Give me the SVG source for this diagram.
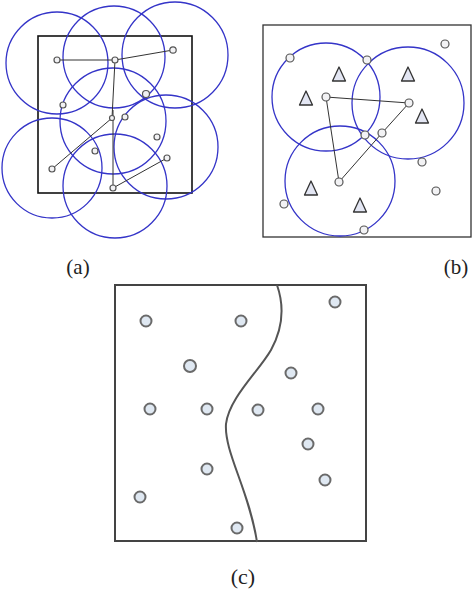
<svg xmlns="http://www.w3.org/2000/svg" width="474" height="593" viewBox="0 0 474 593">
<style>
.rng{fill:none;stroke:#3434c8;stroke-width:1.3}
.frame{fill:none;stroke:#111;stroke-width:1.6}
.e{stroke:#333;stroke-width:1;fill:none}
.n{fill:#f2f2f4;stroke:#555;stroke-width:1.2}
.t{fill:#e3e6f3;stroke:#333;stroke-width:1.3;stroke-linejoin:round}
.c{fill:#dfe8f2;stroke:#6a6a6a;stroke-width:2}
.lbl{font-family:"Liberation Serif","Times New Roman",serif;font-size:21px;fill:#222;text-anchor:middle}
</style>
<defs>
<path id="tri" d="M0,-7 L6.5,7 L-6.5,7 Z"/>
</defs>
<rect width="474" height="593" fill="#fff"/>

<!-- Panel (a) -->
<g id="panel-a">
<rect class="frame" x="38" y="36" width="154" height="157"/>
<g id="a-ranges">
<circle class="rng" cx="57" cy="63" r="51"/>
<circle class="rng" cx="114" cy="57" r="51"/>
<circle class="rng" cx="175" cy="55" r="53"/>
<circle class="rng" cx="113" cy="121" r="53"/>
<circle class="rng" cx="166" cy="147" r="52"/>
<circle class="rng" cx="52" cy="168" r="50"/>
<circle class="rng" cx="115" cy="186" r="52"/>
</g>
<g id="a-connectors">
<line class="e" x1="57" y1="60" x2="115" y2="60"/>
<line class="e" x1="115" y1="60" x2="173" y2="50"/>
<line class="e" x1="115" y1="60" x2="112" y2="118"/>
<line class="e" x1="113" y1="110" x2="113" y2="188"/>
<line class="e" x1="112" y1="118" x2="52" y2="169"/>
<line class="e" x1="113" y1="188" x2="167" y2="158"/>
</g>
<g id="a-nodes">
<circle class="n" cx="57" cy="60" r="3"/>
<circle class="n" cx="115" cy="60" r="3"/>
<circle class="n" cx="173" cy="50" r="3.2"/>
<circle class="n" cx="146" cy="94" r="3.5"/>
<circle class="n" cx="63" cy="105" r="3"/>
<circle class="n" cx="125" cy="117" r="3"/>
<circle class="n" cx="112" cy="118" r="2.5"/>
<circle class="n" cx="157" cy="137" r="3"/>
<circle class="n" cx="95" cy="151" r="3"/>
<circle class="n" cx="167" cy="158" r="3"/>
<circle class="n" cx="52" cy="169" r="3"/>
<circle class="n" cx="113" cy="188" r="3"/>
</g>
</g>

<!-- Panel (b) -->
<g id="panel-b">
<rect class="frame" x="263" y="25" width="208" height="212" style="stroke:#333;stroke-width:1.3"/>
<g id="b-ranges">
<circle class="rng" cx="326" cy="97" r="54"/>
<circle class="rng" cx="408" cy="103" r="56"/>
<circle class="rng" cx="340" cy="181" r="55"/>
</g>
<g id="b-connectors">
<line class="e" x1="326" y1="97" x2="409" y2="103"/>
<line class="e" x1="326" y1="97" x2="339" y2="182"/>
<line class="e" x1="339" y1="182" x2="382" y2="133"/>
<line class="e" x1="382" y1="133" x2="409" y2="103"/>
</g>
<g id="b-targets">
<use href="#tri" class="t" x="339" y="74"/>
<use href="#tri" class="t" x="408" y="74"/>
<use href="#tri" class="t" x="306" y="98"/>
<use href="#tri" class="t" x="422" y="116"/>
<use href="#tri" class="t" x="311" y="188"/>
<use href="#tri" class="t" x="360" y="205"/>
</g>
<g id="b-nodes">
<circle class="n" cx="290" cy="58" r="4"/>
<circle class="n" cx="367" cy="60" r="4"/>
<circle class="n" cx="445" cy="44" r="4"/>
<circle class="n" cx="326" cy="97" r="4"/>
<circle class="n" cx="409" cy="103" r="4"/>
<circle class="n" cx="365" cy="135" r="4"/>
<circle class="n" cx="382" cy="133" r="4"/>
<circle class="n" cx="422" cy="162" r="4"/>
<circle class="n" cx="436" cy="191" r="4"/>
<circle class="n" cx="339" cy="182" r="4"/>
<circle class="n" cx="284" cy="204" r="4"/>
<circle class="n" cx="364" cy="230" r="4"/>
</g>
</g>

<!-- Panel (c) -->
<g id="panel-c">
<rect x="115" y="285" width="251" height="256" fill="none" stroke="#444" stroke-width="2"/>
<path id="c-boundary" d="M277,285 C284,305 283,328 271,350 C259,371 229,398 226,424 C224,452 249,490 257,542" fill="none" stroke="#555" stroke-width="2"/>
<g id="c-nodes">
<circle class="c" cx="146" cy="321" r="5.5"/>
<circle class="c" cx="241" cy="321" r="5.5"/>
<circle class="c" cx="335" cy="302" r="5.5"/>
<circle class="c" cx="190" cy="366" r="6"/>
<circle class="c" cx="291" cy="373" r="5.5"/>
<circle class="c" cx="150" cy="409" r="5.5"/>
<circle class="c" cx="207" cy="409" r="5.5"/>
<circle class="c" cx="258" cy="410" r="5.5"/>
<circle class="c" cx="318" cy="409" r="5.5"/>
<circle class="c" cx="308" cy="444" r="5.5"/>
<circle class="c" cx="207" cy="469" r="5.5"/>
<circle class="c" cx="325" cy="480" r="5.5"/>
<circle class="c" cx="140" cy="497" r="5.5"/>
<circle class="c" cx="237" cy="528" r="5.5"/>
</g>
</g>

<g id="labels">
<text class="lbl" x="78" y="274">(a)</text>
<text class="lbl" x="456" y="274">(b)</text>
<text class="lbl" x="243" y="584" style="font-size:22px">(c)</text>
</g>
</svg>
